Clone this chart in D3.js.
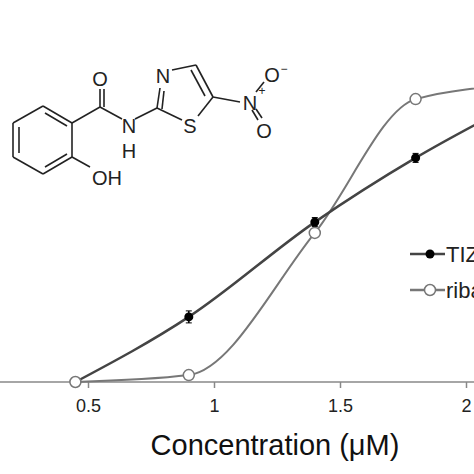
<!DOCTYPE html><html><head><meta charset="utf-8"><script src="https://cdn.jsdelivr.net/npm/d3@7"></script>
<style>body{margin:0;background:#fff}</style></head><body><svg id="c" width="474" height="474"></svg>
<script>
const conc=[0.45,0.9,1.4,1.8,2.2];
const tiz=[0,21.7,53.3,74.7,93];
const tizErr=[0,2,1.5,1.5,1.5];
const riba=[0,2.3,49.7,94.3,99];
const xTicks=[0.5,1,1.5,2];
const seriesNames=["TIZ","ribavirin"];
const svg=d3.select("#c");
const x=d3.scaleLinear().domain([0.5,2]).range([88,466]);
const y=d3.scaleLinear().domain([0,100]).range([382,82]);
svg.append("line").attr("x1",0).attr("x2",474).attr("y1",382).attr("y2",382).attr("stroke","#888").attr("stroke-width",1.5);
const ax=svg.append("g").attr("transform","translate(0,382)").call(d3.axisBottom(x).tickValues(xTicks).tickSize(6).tickFormat(d3.format("")));
ax.select(".domain").remove();
ax.selectAll("line").attr("stroke","#888").attr("stroke-width",1.5);
ax.selectAll("text").style("font-family","Liberation Sans, Arial").style("font-size","18px").attr("fill","#222").attr("dy","1.15em");
svg.append("text").attr("x",275).attr("y",455).attr("text-anchor","middle").attr("font-family","Liberation Sans, Arial").attr("font-size",29).attr("fill","#111").text("Concentration (μM)");
const lineGen=d3.line().x((d,i)=>x(conc[i])).curve(d3.curveMonotoneX);
svg.append("path").attr("d",lineGen.y(d=>y(d))(riba)).attr("fill","none").attr("stroke","#777").attr("stroke-width",2);
svg.append("path").attr("d",lineGen.y(d=>y(d))(tiz)).attr("fill","none").attr("stroke","#444").attr("stroke-width",2.5);
conc.forEach((c,i)=>{
 if(tizErr[i]>0){svg.append("line").attr("x1",x(c)).attr("x2",x(c)).attr("y1",y(tiz[i]+tizErr[i])).attr("y2",y(tiz[i]-tizErr[i])).attr("stroke","#000").attr("stroke-width",1.5);
 [tiz[i]+tizErr[i],tiz[i]-tizErr[i]].forEach(v=>svg.append("line").attr("x1",x(c)-3).attr("x2",x(c)+3).attr("y1",y(v)).attr("y2",y(v)).attr("stroke","#000"));}
 svg.append("circle").attr("cx",x(c)).attr("cy",y(tiz[i])).attr("r",4.5).attr("fill","#000");
 svg.append("circle").attr("cx",x(c)).attr("cy",y(riba[i])).attr("r",5.5).attr("fill","#fff").attr("stroke","#777").attr("stroke-width",1.5);
});
[[254,"#444",true],[290,"#777",false]].forEach((l,i)=>{
 svg.append("line").attr("x1",410).attr("x2",445).attr("y1",l[0]).attr("y2",l[0]).attr("stroke",l[1]).attr("stroke-width",2.5);
 svg.append("circle").attr("cx",430).attr("cy",l[0]).attr("r",l[2]?4.5:5.5).attr("fill",l[2]?"#000":"#fff").attr("stroke",l[2]?"none":"#777").attr("stroke-width",1.5);
 svg.append("text").attr("x",446).attr("y",l[0]+8).attr("font-family","Liberation Sans, Arial").attr("font-size",22).attr("fill","#222").text(seriesNames[i]);
});
const m=svg.append("g").attr("stroke","#222").attr("stroke-width",1.6).attr("fill","none");
const seg=(a,b,c,d)=>m.append("line").attr("x1",a).attr("y1",b).attr("x2",c).attr("y2",d);
const hex=[[13,123],[43,106],[72,123],[72,157],[43,174],[13,157]];
hex.forEach((p,i)=>{const q=hex[(i+1)%6];seg(p[0],p[1],q[0],q[1]);});
seg(19,127,19,153);seg(45,113,67,126);seg(45,167,67,154);
seg(72,123,100,107);seg(100,107,100,89);seg(104,107,104,89);
seg(100,107,122,119);seg(135,119,157,108);
seg(157,108,160,88);seg(162,109,164,91);seg(172,70,196,65);seg(196,65,213,97);seg(191,70,205,96);
seg(213,97,198,116);seg(157,108,182,120);seg(213,97,240,102);
seg(72,157,90,167);
seg(256,92,264,82);seg(252,110,258,120);seg(256,109,262,118);
const t=(s,px,py,fs)=>svg.append("text").attr("x",px).attr("y",py).attr("text-anchor","middle").attr("font-family","Liberation Sans, Arial").attr("font-size",fs||20).attr("fill","#222").text(s);
t("O",100,86);t("N",129,133);t("H",129,158);t("N",163,83);t("S",190,133);t("OH",107,185);
t("N",250,110);t("+",262,95,12);t("O",272,82);t("−",284,73,12);t("O",264,138);
</script></body></html>
